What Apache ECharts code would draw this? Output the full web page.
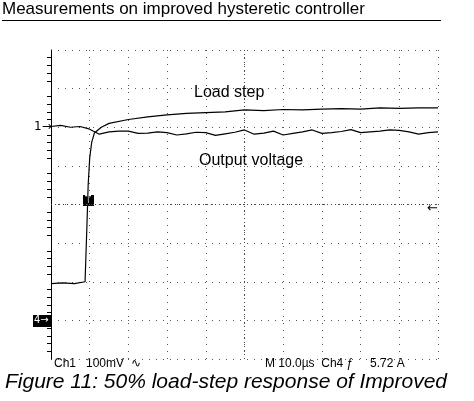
<!DOCTYPE html>
<html><head><meta charset="utf-8">
<script src="https://cdn.jsdelivr.net/npm/echarts@6/dist/echarts.min.js"></script>
<style>html,body{margin:0;background:#fff}#c{width:474px;height:401px}</style>
</head><body><div id="c"></div>
<script>
// divisions: x 0..10, y -4..4 (0 = screen centre)
var outX = [0,0.25,0.5,0.75,1,1.25,1.5,1.75,2,2.25,2.5,2.75,3,3.25,3.5,3.75,4,4.25,4.5,4.75,5,5.25,5.5,5.75,6,6.25,6.5,6.75,7,7.25,7.5,7.75,8,8.25,8.5,8.75,9,9.25,9.5,9.75,10];
var outV = [2.02,2.05,2.0,2.02,1.95,1.82,1.88,1.9,1.9,1.84,1.85,1.88,1.86,1.8,1.83,1.87,1.86,1.79,1.83,1.87,1.93,1.82,1.85,1.9,1.8,1.84,1.88,1.93,1.84,1.86,1.89,1.94,1.86,1.88,1.9,1.93,1.92,1.88,1.82,1.86,1.88];
var loadX = [0,0.3,0.6,0.88,0.93,0.96,1.0,1.05,1.12,1.3,1.5,2,2.5,3,3.5,4,4.5,5,5.5,6,6.5,7,7.5,8,8.5,9,9.5,10];
var loadV = [-2.05,-2.03,-2.05,-2.0,-0.5,0.5,1.2,1.6,1.85,2.0,2.1,2.2,2.27,2.32,2.36,2.38,2.4,2.45,2.43,2.46,2.45,2.47,2.48,2.47,2.5,2.49,2.5,2.5];

var chart = echarts.init(document.getElementById('c'));
var dot = {show: true, lineStyle: {color: '#555', type: [1, 6], width: 1}};
chart.setOption({
  animation: false,
  grid: {left: 51, right: 36, top: 50, bottom: 42},
  xAxis: {type: 'value', min: 0, max: 10, interval: 1, axisLabel: {show: false},
    axisTick: {show: false}, splitLine: dot,
    axisLine: {show: false}},
  yAxis: {type: 'value', min: -4, max: 4, interval: 1, axisLabel: {show: false},
    axisTick: {show: false}, splitLine: dot,
    axisLine: {show: true, lineStyle: {color: '#000', width: 1}},
    minorTick: {show: true, splitNumber: 5, length: 4, lineStyle: {color: '#000'}}},
  series: [
    {type: 'line', symbol: 'none', data: outX.map(function (x, i) { return [x, outV[i]]; }),
      lineStyle: {color: '#000', width: 1.2},
      markLine: {silent: true, symbol: 'none', label: {show: false},
        lineStyle: {color: '#444', type: [1, 3], width: 1},
        data: [{yAxis: 0}, {xAxis: 5}]}},
    {type: 'line', symbol: 'none', data: loadX.map(function (x, i) { return [x, loadV[i]]; }),
      lineStyle: {color: '#000', width: 1.2}}
  ],
  graphic: [
    {type: 'text', x: 2, y: 1, style: {text: 'Measurements on improved hysteretic controller', font: '17px "Liberation Sans", Arial', fill: '#000'}},
    {type: 'rect', shape: {x: 2, y: 20, width: 439, height: 1}, style: {fill: '#000'}},
    {type: 'text', x: 194, y: 85, style: {text: 'Load step', font: '16px "Liberation Sans"', fill: '#000'}},
    {type: 'text', x: 199, y: 153, style: {text: 'Output voltage', font: '16px "Liberation Sans"', fill: '#000'}},
    {type: 'text', x: 34, y: 121, style: {text: '1\u2192', font: '12px "DejaVu Sans"', fill: '#000'}},
    {type: 'rect', shape: {x: 33, y: 315, width: 18, height: 12}, style: {fill: '#000'}},
    {type: 'text', x: 34, y: 315, style: {text: '4\u2192', font: '10px "DejaVu Sans"', fill: '#fff'}},
    {type: 'rect', shape: {x: 83, y: 195, width: 11, height: 11}, style: {fill: '#000'}},
    {type: 'text', x: 85, y: 195, style: {text: 'T', font: 'bold 10px "Liberation Sans"', fill: '#fff'}},
    {type: 'text', x: 427, y: 202, style: {text: '\u2190', font: '13px "DejaVu Sans"', fill: '#000'}},
    {type: 'text', x: 54, y: 358, style: {text: 'Ch1   100mV  \u223f', font: '12px "Liberation Sans"', fill: '#000'}},
    {type: 'text', x: 265, y: 358, style: {text: 'M 10.0\u00b5s  Ch4 \u0192     5.72 A', font: '12px "Liberation Sans"', fill: '#000'}},
    {type: 'text', x: 5, y: 372, style: {text: 'Figure 11: 50% load-step response of Improved', font: 'italic 21px "Liberation Sans"', fill: '#000'}}
  ]
});
</script></body></html>
